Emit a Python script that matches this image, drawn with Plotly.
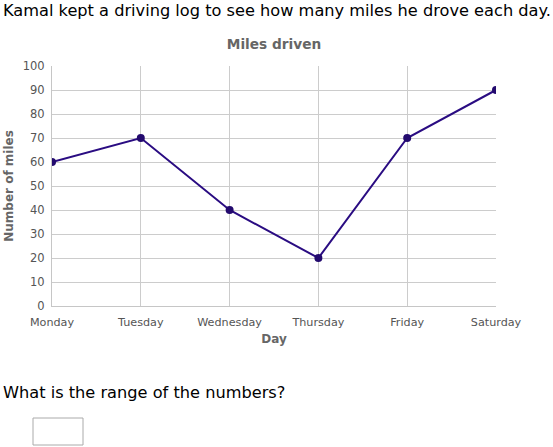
import plotly.graph_objects as go

days = ["Monday", "Tuesday", "Wednesday", "Thursday", "Friday", "Saturday"]
miles = [60, 70, 40, 20, 70, 90]
y_ticks = list(range(0, 101, 10))

W, H = 553, 447
L, R, T, B = 52, 496, 66, 306
FONT = "DejaVu Sans, Verdana, sans-serif"
LINE = "#2a0c82"


def px(x):
    return (x - L) / (R - L)


def py(y):
    return (B - y) / (B - T)


fig = go.Figure(
    go.Scatter(
        x=days,
        y=miles,
        mode="lines+markers",
        line=dict(color=LINE, width=2),
        marker=dict(color="#230a6e", size=8),
        hoverinfo="x+y",
    )
)

fig.update_layout(
    width=W,
    height=H,
    margin=dict(l=L, r=W - R, t=T, b=H - B, pad=0),
    paper_bgcolor="white",
    plot_bgcolor="white",
    showlegend=False,
    font=dict(family=FONT, size=11, color="#555"),
    title=dict(
        text="<b>Miles driven</b>",
        x=274 / W,
        xanchor="center",
        y=1 - 44 / H,
        yanchor="middle",
        font=dict(size=13.7, color="#666"),
    ),
)

fig.update_xaxes(
    type="category",
    range=[0, len(days) - 1],
    automargin=False,
    showgrid=True,
    gridcolor="#cccccc",
    gridwidth=1,
    showline=True,
    linecolor="#c6c6c6",
    linewidth=1,
    ticks="",
    ticklabelstandoff=6,
    tickfont=dict(size=11.2, color="#555"),
    title=dict(text="<b>Day</b>", font=dict(size=12, color="#666"), standoff=6),
    zeroline=False,
)
fig.update_yaxes(
    range=[0, 100],
    tickvals=y_ticks,
    automargin=False,
    showgrid=True,
    gridcolor="#cccccc",
    gridwidth=1,
    showline=True,
    linecolor="#c6c6c6",
    linewidth=1,
    ticks="",
    ticklabelstandoff=4,
    tickfont=dict(size=11.5, color="#555"),
    title=dict(text="<b>Number of miles</b>", font=dict(size=12, color="#666"), standoff=6),
    zeroline=False,
)

fig.add_annotation(
    text="Kamal kept a driving log to see how many miles he drove each day.",
    xref="paper", yref="paper",
    x=px(1), y=py(11),
    xanchor="left", yanchor="middle",
    showarrow=False,
    font=dict(family=FONT, size=16.2, color="black"),
)
fig.add_annotation(
    text="What is the range of the numbers?",
    xref="paper", yref="paper",
    x=px(1), y=py(392),
    xanchor="left", yanchor="middle",
    showarrow=False,
    font=dict(family=FONT, size=16.2, color="black"),
)
# answer box
fig.add_shape(
    type="rect",
    xref="paper", yref="paper",
    x0=px(33), x1=px(83), y0=py(418), y1=py(445),
    line=dict(color="#aaaaaa", width=1),
    fillcolor="white",
)

# page body has an 8px default margin; drop it so the figure sits at 0,0
fig.write_html(
    "out.html",
    config={"displayModeBar": False},
    post_script="document.body.style.margin='0';",
)
